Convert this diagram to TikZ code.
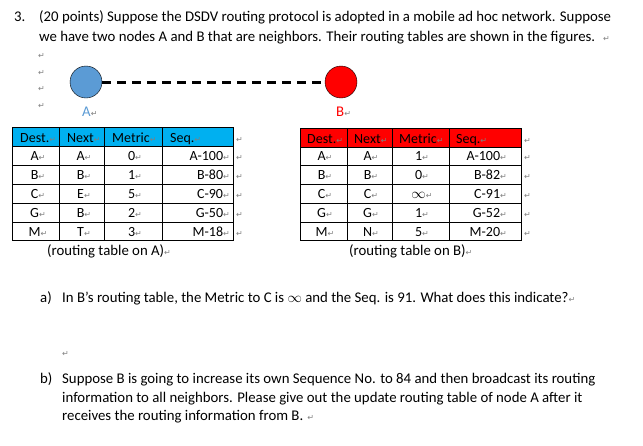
\documentclass[tikz,border=0pt]{standalone}
\usepackage{fontspec}
\setmainfont{Carlito}
\newfontfamily\dejavu{DejaVu Sans}
\definecolor{ablue}{HTML}{5B9BD5}
\definecolor{hcyan}{HTML}{00B0F0}
\newcommand\rt{{\color{gray}\dejavu\fontsize{8}{8}\selectfont ↵}}
\begin{document}
\begin{tikzpicture}[x=1pt,y=-1pt,
  txt/.style={anchor=base west,inner sep=0pt,font=\fontsize{14.8}{18}\selectfont},
  cell/.style={anchor=base,inner sep=0pt,font=\fontsize{14}{18}\selectfont},
  rcell/.style={anchor=base east,inner sep=0pt,font=\fontsize{14}{18}\selectfont},
  mk/.style={anchor=base west,inner sep=0pt}]
\useasboundingbox (0,0) rectangle (643,445);
\fill[white] (0,0) rectangle (643,445);
% question text
\node[txt] (t0) at (14,21) {3.};
\node[txt] (t1) at (39,21) {(20 points) Suppose the DSDV routing protocol is adopted in a mobile ad hoc network. Suppose};
\node[txt] (t2) at (39,41) {we have two nodes A and B that are neighbors. Their routing tables are shown in the figures.\hspace{8pt}\rt};
\foreach \y [count=\i] in {58,75,91,108} \node[mk] (m\i) at (38,\y) {\rt};
% nodes
\node[circle,draw=black,fill=ablue,minimum width=30pt,minimum height=32pt,inner sep=0pt] (A) at (86,82) {};
\node[circle,draw=black,fill=red,minimum width=30pt,minimum height=32pt,inner sep=0pt] (B) at (341,82) {};
\draw[line width=3pt,dash pattern=on 9pt off 6pt] (A) -- (B);
\node[txt,text=ablue] (la) at (82,116) {A\rt};
\node[txt,text=red] (lb) at (336,116) {B\rt};
% table A
\fill[hcyan] (12,127) rectangle (233,146);
\draw (12,127) rectangle (233,240);
\foreach \x in {59,104,162} \draw (\x,127) -- (\x,240);
\foreach \y in {146,165,184,203,222} \draw (12,\y) -- (233,\y);
\node[cell,anchor=base west] (ha1) at (20,142) {Dest.\rt};
\node[cell,anchor=base west] (ha2) at (67,142) {Next\rt};
\node[cell,anchor=base west] (ha3) at (112,142) {Metric\rt};
\node[cell,anchor=base west] (ha4) at (170,142) {Seq.\rt};
\foreach \a/\b/\c/\d [count=\i] in {A/A/0/A-100,B/B/1/B-80,C/E/5/C-90,G/B/2/G-50,M/T/3/M-18}{
  \pgfmathsetmacro\yy{141+19*\i}
  \node[cell] (a1\i) at (38,\yy) {\a\rt};
  \node[cell] (a2\i) at (84,\yy) {\b\rt};
  \node[cell] (a3\i) at (135,\yy) {\c\rt};
  \node[rcell] (a4\i) at (230,\yy) {\d\rt};
}
\foreach \y [count=\i] in {142,160,179,198,217,236} \node[mk] (ma\i) at (236,\y) {\rt};
\node[txt] (capa) at (47,255) {(routing table on A)\rt};
% table B
\fill[red] (300,128) rectangle (521,147);
\draw (300,128) rectangle (521,240);
\foreach \x in {347,392,449} \draw (\x,128) -- (\x,240);
\foreach \y in {147,165.5,184,203,222} \draw (300,\y) -- (521,\y);
\node[cell,anchor=base west] (hb1) at (307,143) {Dest.\rt};
\node[cell,anchor=base west] (hb2) at (354,143) {Next\rt};
\node[cell,anchor=base west] (hb3) at (399,143) {Metric\rt};
\node[cell,anchor=base west] (hb4) at (456,143) {Seq.\rt};
\foreach \a/\b/\c/\d [count=\i] in {A/A/1/A-100,B/B/0/B-82,C/C/$\infty$/C-91,G/G/1/G-52,M/N/5/M-20}{
  \pgfmathsetmacro\yy{141+19*\i}
  \node[cell] (b1\i) at (325,\yy) {\a\rt};
  \node[cell] (b2\i) at (371,\yy) {\b\rt};
  \node[cell] (b3\i) at (422,\yy) {\c\rt};
  \node[rcell] (b4\i) at (507,\yy) {\d\rt};
}
\foreach \y [count=\i] in {143,160,179,198,217,236} \node[mk] (mb\i) at (524,\y) {\rt};
\node[txt] (capb) at (349,255) {(routing table on B)\rt};
% questions
\node[txt] (qa0) at (40,302) {a)};
\node[txt] (qa) at (62,302) {In B's routing table, the Metric to C is $\infty$ and the Seq. is 91. What does this indicate?\rt};
\node[mk] (m5) at (62,356) {\rt};
\node[txt] (qb0) at (40,383) {b)};
\node[txt] (qb1) at (62,383) {Suppose B is going to increase its own Sequence No. to 84 and then broadcast its routing};
\node[txt] (qb2) at (62,402) {information to all neighbors. Please give out the update routing table of node A after it};
\node[txt] (qb3) at (62,420) {receives the routing information from B.\hspace{4pt}\rt};
\end{tikzpicture}
\end{document}
